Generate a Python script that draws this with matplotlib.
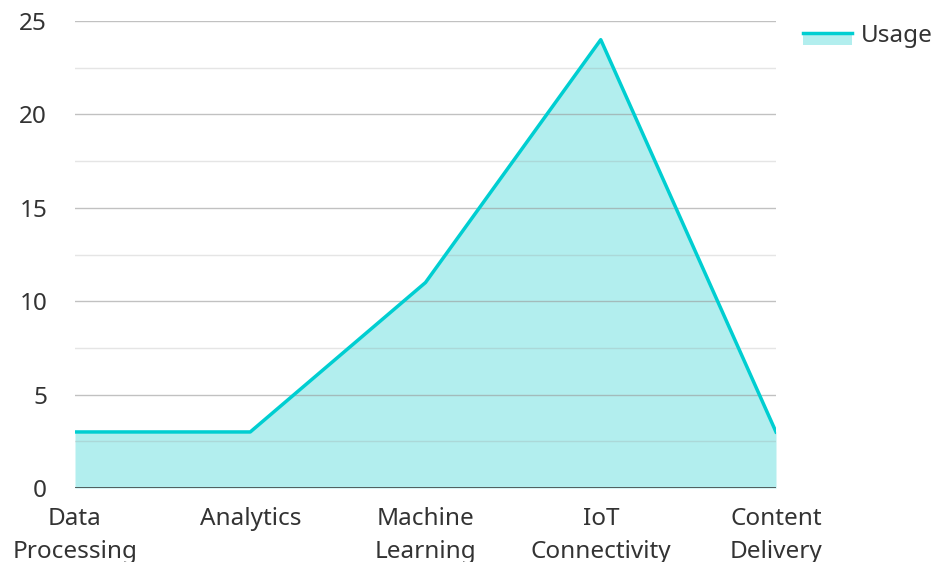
import matplotlib.pyplot as plt
from matplotlib.lines import Line2D
from matplotlib.patches import Rectangle
from matplotlib.legend_handler import HandlerBase

plt.rcParams['font.family'] = ['Noto Sans', 'DejaVu Sans']

# data
categories = ["Data\nProcessing", "Analytics", "Machine\nLearning", "IoT\nConnectivity", "Content\nDelivery"]
usage = [3, 3, 11, 24, 3]

line_color = "#00CED1"
fill_color = "#B2EEEE"


# legend handle: line on top with the filled area under it
class AreaHandler(HandlerBase):
    def create_artists(self, legend, orig_handle, xdescent, ydescent, width, height, fontsize, trans):
        ymid = (height - ydescent) / 2.0
        rect = Rectangle((-xdescent, ymid - fontsize * 0.48), width, fontsize * 0.48,
                         facecolor=fill_color, edgecolor='none', transform=trans)
        line = Line2D([-xdescent, -xdescent + width], [ymid, ymid], color=line_color,
                      linewidth=2.5, transform=trans)
        return [rect, line]


fig = plt.figure(figsize=(9.34, 5.62), dpi=100)
ax = fig.add_axes([75 / 934, 1 - 488 / 562, 701 / 934, 467 / 562])

x = range(len(categories))
ax.fill_between(x, usage, 0, color=fill_color, zorder=1, linewidth=0)
ax.plot(x, usage, color=line_color, linewidth=2.5, zorder=3)

# grid lines drawn over the fill
for v in [2.5, 7.5, 12.5, 17.5, 22.5]:
    ax.axhline(v, color="#999999", alpha=0.25, linewidth=1, zorder=2)
for v in [5, 10, 15, 20, 25]:
    ax.axhline(v, color="#999999", alpha=0.6, linewidth=1, zorder=2)
ax.axhline(0, color="#333333", linewidth=1.8, zorder=4)

ax.set_xlim(0, len(categories) - 1)
ax.set_ylim(0, 25)
ax.set_yticks([0, 5, 10, 15, 20, 25])
ax.set_xticks(list(x))
ax.set_xticklabels(categories, linespacing=1.45)
ax.tick_params(axis='both', length=0, labelsize=17.5, colors="#333333")
ax.tick_params(axis='y', pad=20)
ax.tick_params(axis='x', pad=14)
for s in ax.spines.values():
    s.set_visible(False)

leg = fig.legend(["usage_handle"], ["Usage"], loc="upper left",
                 bbox_to_anchor=(803 / 934, 1 - 24 / 562),
                 frameon=False, fontsize=17.5, handlelength=2.0, handletextpad=0.4,
                 borderpad=0, borderaxespad=0,
                 handler_map={str: AreaHandler()})
for t in leg.get_texts():
    t.set_color("#333333")

plt.savefig("out.png", dpi=100)
